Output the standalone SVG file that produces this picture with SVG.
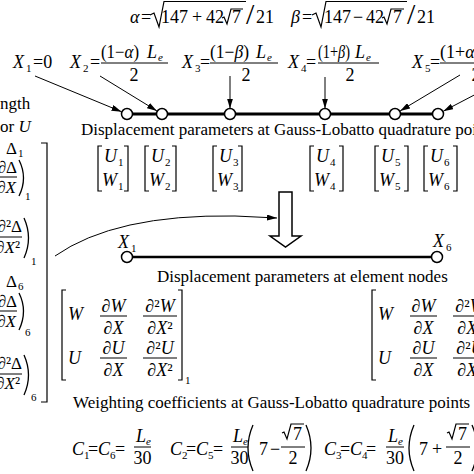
<svg xmlns="http://www.w3.org/2000/svg" width="474" height="474" viewBox="0 0 474 474">
<defs>
<marker id="ah" viewBox="0 0 10 6" refX="10" refY="3" markerWidth="10" markerHeight="6" markerUnits="userSpaceOnUse" orient="auto"><path d="M0,0 L10,3 L0,6 Z" fill="#000"/></marker>
</defs>
<style>
text{font-family:"Liberation Serif","Times New Roman",serif;fill:#000}
.m{font-size:18px}
.l{font-size:17px}
.i{font-style:italic}
.p{font-size:17px}
.sb{font-size:11px}
.ln{stroke:#000;fill:none;stroke-width:1}
.bar{stroke:#000;stroke-width:1}
.br{stroke:#000;fill:none;stroke-width:1.2}
.par{stroke:#000;fill:none;stroke-width:1.3}
.node{fill:#fff;stroke:#000;stroke-width:1.5}
.c{text-anchor:middle}
.e{text-anchor:end}
</style>
<rect width="474" height="474" fill="#fff"/>

<g id="alpha-def">
<text class="m i" x="130" y="23">α</text>
<text class="m" x="141" y="23">=</text>
<path class="br" d="M150,15 L154,13 L159,27 L164,1.5 L246,1.5"/>
<text class="m" x="161" y="23">147</text>
<text class="m" x="192" y="23">+</text>
<text class="m" x="206" y="23">42</text>
<path class="br" d="M222,18 L224,17 L227,24 L231,9 L243,9"/>
<text class="m" x="232" y="23">7</text>
<text x="246" y="24" font-size="30">/</text>
<text class="m" x="256" y="23">21</text>
</g>
<g id="beta-def">
<text class="m i" x="291" y="23">β</text>
<text class="m" x="302" y="23">=</text>
<path class="br" d="M312,15 L316,13 L321,27 L326,1.5 L407,1.5"/>
<text class="m" x="324" y="23">147</text>
<text class="m" x="353" y="23">−</text>
<text class="m" x="366" y="23">42</text>
<path class="br" d="M382,18 L384,17 L387,24 L391,9 L404,9"/>
<text class="m" x="393" y="23">7</text>
<text x="407" y="24" font-size="30">/</text>
<text class="m" x="417" y="23">21</text>
</g>

<g id="label-x1">
<text class="m i" x="13" y="68">X</text><text class="sb" x="26" y="72">1</text>
<text class="m" x="33" y="68">=0</text>
</g>
<g id="label-x2">
<text class="m i" x="70" y="68">X</text><text class="sb" x="83" y="72">2</text>
<text class="m" x="90" y="68">=</text>
<text class="m" x="101" y="58" textLength="38" lengthAdjust="spacingAndGlyphs">(1−<tspan class="i">α</tspan>)</text>
<text class="m i" x="147" y="58">L</text><text class="sb i" x="158" y="61">e</text>
<line class="bar" x1="101" y1="63" x2="168" y2="63"/>
<text class="m c" x="134" y="81">2</text>
</g>
<g id="label-x3">
<text class="m i" x="182" y="68">X</text><text class="sb" x="195" y="72">3</text>
<text class="m" x="200" y="68">=</text>
<text class="m" x="210" y="58" textLength="39" lengthAdjust="spacingAndGlyphs">(1−<tspan class="i">β</tspan>)</text>
<text class="m i" x="256" y="58">L</text><text class="sb i" x="267" y="61">e</text>
<line class="bar" x1="210" y1="63" x2="278" y2="63"/>
<text class="m c" x="246" y="81">2</text>
</g>
<g id="label-x4">
<text class="m i" x="288" y="68">X</text><text class="sb" x="301" y="72">4</text>
<text class="m" x="306" y="68">=</text>
<text class="m" x="318" y="58" textLength="32" lengthAdjust="spacingAndGlyphs">(1+<tspan class="i">β</tspan>)</text>
<text class="m i" x="355" y="58">L</text><text class="sb i" x="366" y="61">e</text>
<line class="bar" x1="318" y1="63" x2="379" y2="63"/>
<text class="m c" x="350" y="81">2</text>
</g>
<g id="label-x5">
<text class="m i" x="412" y="68">X</text><text class="sb" x="425" y="72">5</text>
<text class="m" x="430" y="68">=</text>
<text class="m" x="440" y="58">(1+<tspan class="i">α</tspan>)</text>
<line class="bar" x1="440" y1="63" x2="474" y2="63"/>
<text class="m c" x="476" y="81">2</text>
</g>

<g id="connectors">
<line class="ln" x1="35" y1="76" x2="121.5" y2="111.7" marker-end="url(#ah)"/>
<line class="ln" x1="100" y1="76" x2="156.9" y2="110.9" marker-end="url(#ah)"/>
<line class="ln" x1="230" y1="76" x2="230" y2="108.5" marker-end="url(#ah)"/>
<line class="ln" x1="325" y1="77" x2="325" y2="108.5" marker-end="url(#ah)"/>
<line class="ln" x1="460" y1="75" x2="400.1" y2="110.9" marker-end="url(#ah)"/>
<line class="ln" x1="480" y1="92" x2="443.3" y2="111.2" marker-end="url(#ah)"/>
<path class="ln" d="M55,256 Q115,214 235,216 L277,218" marker-end="url(#ah)"/>
</g>

<g id="gl-element">
<line x1="127" y1="114" x2="438" y2="114" stroke="#000" stroke-width="3"/>
<circle class="node" cx="127" cy="114" r="5.5"/>
<circle class="node" cx="162" cy="114" r="5.5"/>
<circle class="node" cx="230" cy="114" r="5.5"/>
<circle class="node" cx="325" cy="114" r="5.5"/>
<circle class="node" cx="395" cy="114" r="5.5"/>
<circle class="node" cx="438" cy="114" r="5.5"/>
</g>
<text class="p" x="81" y="135">Displacement parameters at Gauss-Lobatto quadrature points</text>

<g id="gl-vectors">
<g id="vec1"><path class="br" d="M102,146 H98 V191 H102 M124,146 H128 V191 H124"/>
<text class="m i" x="104" y="162">U</text><text class="sb" x="118" y="166">1</text>
<text class="m i" x="102" y="186">W</text><text class="sb" x="118" y="190">1</text></g>
<g id="vec2"><path class="br" d="M149,146 H145 V191 H149 M172,146 H176 V191 H172"/>
<text class="m i" x="151" y="162">U</text><text class="sb" x="165" y="166">2</text>
<text class="m i" x="149" y="186">W</text><text class="sb" x="165" y="190">2</text></g>
<g id="vec3"><path class="br" d="M217,146 H213 V191 H217 M238,146 H242 V191 H238"/>
<text class="m i" x="219" y="162">U</text><text class="sb" x="233" y="166">3</text>
<text class="m i" x="217" y="186">W</text><text class="sb" x="233" y="190">3</text></g>
<g id="vec4"><path class="br" d="M314,146 H310 V191 H314 M339,146 H343 V191 H339"/>
<text class="m i" x="316" y="162">U</text><text class="sb" x="330" y="166">4</text>
<text class="m i" x="314" y="186">W</text><text class="sb" x="330" y="190">4</text></g>
<g id="vec5"><path class="br" d="M379,146 H375 V191 H379 M404,146 H408 V191 H404"/>
<text class="m i" x="381" y="162">U</text><text class="sb" x="395" y="166">5</text>
<text class="m i" x="379" y="186">W</text><text class="sb" x="395" y="190">5</text></g>
<g id="vec6"><path class="br" d="M428,146 H424 V191 H428 M453,146 H457 V191 H453"/>
<text class="m i" x="430" y="162">U</text><text class="sb" x="444" y="166">6</text>
<text class="m i" x="428" y="186">W</text><text class="sb" x="444" y="190">6</text></g>
</g>

<g id="left-column">
<text class="p" x="0" y="109">ngth</text>
<text class="p" x="0" y="132">or <tspan class="i">U</tspan></text>
<text class="l" x="6" y="154">Δ</text><text class="sb" x="18" y="157">1</text>
<text class="l e" x="17" y="173">∂Δ</text>
<line class="bar" x1="0" y1="177" x2="17" y2="177"/>
<text class="l e i" x="16" y="193">∂X</text>
<path class="par" d="M19,160 Q28,178 19,196"/>
<text class="sb" x="25" y="200">1</text>
<text class="l e" x="22" y="232">∂²Δ</text>
<line class="bar" x1="0" y1="237" x2="22" y2="237"/>
<text class="l e" x="20" y="253"><tspan class="i">∂X</tspan>²</text>
<path class="par" d="M24,218 Q33,238 24,258"/>
<text class="sb" x="31" y="265">1</text>
<text class="l" x="6" y="287">Δ</text><text class="sb" x="18" y="290">6</text>
<text class="l e" x="17" y="307">∂Δ</text>
<line class="bar" x1="0" y1="311" x2="17" y2="311"/>
<text class="l e i" x="16" y="327">∂X</text>
<path class="par" d="M19,293 Q28,311 19,330"/>
<text class="sb" x="25" y="336">6</text>
<text class="l e" x="22" y="369">∂²Δ</text>
<line class="bar" x1="0" y1="374" x2="22" y2="374"/>
<text class="l e" x="20" y="389"><tspan class="i">∂X</tspan>²</text>
<path class="par" d="M24,355 Q33,375 24,395"/>
<text class="sb" x="31" y="401">6</text>
<path class="br" d="M41,143 H47 V402 H41"/>
</g>

<g id="transform-arrow">
<polygon points="279,192 292,192 292,236 301,236 285.5,247 270,236 279,236" fill="#fff" stroke="#000" stroke-width="1.5"/>
</g>

<g id="node-element">
<line x1="127" y1="257" x2="437" y2="257" stroke="#000" stroke-width="2.5"/>
<circle class="node" cx="127" cy="257" r="5.5"/>
<circle class="node" cx="437" cy="257" r="5.5"/>
<text class="m i" x="118" y="248">X</text><text class="sb" x="131" y="252">1</text>
<text class="m i" x="433" y="247">X</text><text class="sb" x="446" y="251">6</text>
</g>
<text class="p" x="157" y="282">Displacement parameters at element nodes</text>

<g id="node1-matrix">
<path class="br" d="M66,290 H62 V380 H66 M178,290 H182 V380 H178"/>
<text class="m i" x="68" y="320">W</text>
<text class="m c" x="113.5" y="312">∂<tspan class="i">W</tspan></text>
<line class="bar" x1="100" y1="316" x2="127" y2="316"/>
<text class="m c" x="113.5" y="334">∂<tspan class="i">X</tspan></text>
<text class="m c" x="160" y="312">∂²<tspan class="i">W</tspan></text>
<line class="bar" x1="143" y1="316" x2="177" y2="316"/>
<text class="m c" x="160" y="334">∂<tspan class="i">X</tspan>²</text>
<text class="m i" x="68" y="364">U</text>
<text class="m c" x="113.5" y="354">∂<tspan class="i">U</tspan></text>
<line class="bar" x1="100" y1="358" x2="127" y2="358"/>
<text class="m c" x="113.5" y="376">∂<tspan class="i">X</tspan></text>
<text class="m c" x="160" y="354">∂²<tspan class="i">U</tspan></text>
<line class="bar" x1="143" y1="358" x2="177" y2="358"/>
<text class="m c" x="160" y="376">∂<tspan class="i">X</tspan>²</text>
<text class="sb" x="185" y="384">1</text>
</g>
<g id="node6-matrix">
<path class="br" d="M376,290 H372 V380 H376"/>
<text class="m i" x="378" y="320">W</text>
<text class="m c" x="423.5" y="312">∂<tspan class="i">W</tspan></text>
<line class="bar" x1="410" y1="316" x2="437" y2="316"/>
<text class="m c" x="423.5" y="334">∂<tspan class="i">X</tspan></text>
<text class="m c" x="470" y="312">∂²<tspan class="i">W</tspan></text>
<line class="bar" x1="453" y1="316" x2="487" y2="316"/>
<text class="m c" x="470" y="334">∂<tspan class="i">X</tspan>²</text>
<text class="m i" x="378" y="364">U</text>
<text class="m c" x="423.5" y="354">∂<tspan class="i">U</tspan></text>
<line class="bar" x1="410" y1="358" x2="437" y2="358"/>
<text class="m c" x="423.5" y="376">∂<tspan class="i">X</tspan></text>
<text class="m c" x="470" y="354">∂²<tspan class="i">U</tspan></text>
<line class="bar" x1="453" y1="358" x2="487" y2="358"/>
<text class="m c" x="470" y="376">∂<tspan class="i">X</tspan>²</text>
</g>

<text class="p" x="73" y="408">Weighting coefficients at Gauss-Lobatto quadrature points</text>

<g id="weights">
<text class="m i" x="72" y="455">C</text><text class="sb" x="84" y="459">1</text>
<text class="m" x="88" y="455">=</text>
<text class="m i" x="98" y="455">C</text><text class="sb" x="110" y="459">6</text>
<text class="m" x="115" y="455">=</text>
<text class="m i" x="136" y="442">L</text><text class="sb i" x="146" y="445">e</text>
<line class="bar" x1="134" y1="447" x2="151" y2="447"/>
<text class="m c" x="142.5" y="464">30</text>

<text class="m i" x="170" y="455">C</text><text class="sb" x="182" y="459">2</text>
<text class="m" x="186" y="455">=</text>
<text class="m i" x="196" y="455">C</text><text class="sb" x="208" y="459">5</text>
<text class="m" x="213" y="455">=</text>
<text class="m i" x="233" y="442">L</text><text class="sb i" x="243" y="445">e</text>
<line class="bar" x1="231" y1="447" x2="248" y2="447"/>
<text class="m c" x="239.5" y="464">30</text>
<path class="par" d="M253,425 Q243,448 253,471"/>
<text class="m" x="259" y="455">7</text>
<text class="m" x="270" y="455">−</text>
<path class="br" d="M282,433 L284,432 L287,439 L291,424 L304,424"/>
<text class="m" x="293" y="440">7</text>
<line class="bar" x1="281" y1="447" x2="305" y2="447"/>
<text class="m c" x="293" y="464">2</text>
<path class="par" d="M306,425 Q316,448 306,471"/>

<text class="m i" x="324" y="455">C</text><text class="sb" x="336" y="459">3</text>
<text class="m" x="340" y="455">=</text>
<text class="m i" x="350" y="455">C</text><text class="sb" x="362" y="459">4</text>
<text class="m" x="366" y="455">=</text>
<text class="m i" x="388" y="442">L</text><text class="sb i" x="398" y="445">e</text>
<line class="bar" x1="386" y1="447" x2="404" y2="447"/>
<text class="m c" x="395" y="464">30</text>
<path class="par" d="M414,425 Q404,448 414,471"/>
<text class="m" x="419" y="455">7</text>
<text class="m" x="432" y="455">+</text>
<path class="br" d="M447,433 L449,432 L452,439 L456,424 L469,424"/>
<text class="m" x="458" y="440">7</text>
<line class="bar" x1="446" y1="447" x2="470" y2="447"/>
<text class="m c" x="458" y="464">2</text>
<path class="par" d="M472,425 Q482,448 472,471"/>
</g>
</svg>
